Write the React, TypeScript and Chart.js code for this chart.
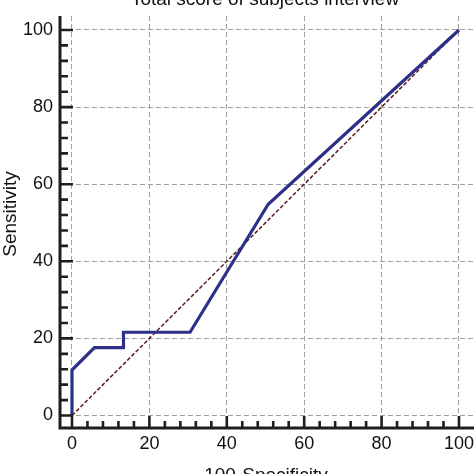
import React, { useEffect, useRef } from "react";
import { Chart, registerables } from "chart.js";

Chart.register(...registerables);

const rocX = [0, 0, 5.8, 13.3, 13.3, 30.5, 50.7, 100];
const rocY = [0, 11.8, 17.6, 17.6, 21.6, 21.6, 54.8, 100];
const diagX = [0, 100];
const diagY = [0, 100];
const tickValues = [0, 20, 40, 60, 80, 100];
const minorStep = 4;
const chartTitle = "Total score of subjects interview";
const xTitle = "100-Specificity";
const yTitle = "Sensitivity";

const FONT = "'Liberation Sans', Arial, sans-serif";

const axesPlugin = {
  id: "axesPlugin",
  afterDraw(chart: any) {
    const ctx = chart.ctx;
    const area = chart.chartArea;
    const xs = chart.scales.x;
    const ys = chart.scales.y;
    ctx.save();
    ctx.strokeStyle = "#1e1e1e";
    ctx.lineWidth = 3;
    ctx.lineCap = "butt";
    // spines
    ctx.beginPath();
    ctx.moveTo(area.left, area.top);
    ctx.lineTo(area.left, area.bottom + 1.5);
    ctx.moveTo(area.left - 1.5, area.bottom);
    ctx.lineTo(area.right, area.bottom);
    ctx.stroke();
    // ticks
    ctx.lineWidth = 2.6;
    ctx.beginPath();
    for (let v = 0; v <= 100; v += minorStep) {
      const major = v % 20 === 0;
      const len = major ? 13 : 8;
      const py = ys.getPixelForValue(v);
      ctx.moveTo(area.left, py);
      ctx.lineTo(area.left + len, py);
      const px = xs.getPixelForValue(v);
      ctx.moveTo(px, area.bottom);
      ctx.lineTo(px, area.bottom - len + 1);
    }
    ctx.stroke();
    // titles
    ctx.fillStyle = "#111";
    ctx.font = `19px ${FONT}`;
    ctx.textAlign = "center";
    ctx.textBaseline = "alphabetic";
    ctx.fillText(chartTitle, 265, 5);
    ctx.fillText(xTitle, 266, 481);
    ctx.translate(11, 214);
    ctx.rotate(-Math.PI / 2);
    ctx.textBaseline = "middle";
    ctx.fillText(yTitle, 0, 0);
    ctx.restore();
  },
};

export default function App() {
  const ref = useRef<HTMLCanvasElement>(null);
  useEffect(() => {
    document.body.style.margin = "0";
    const canvas = ref.current;
    if (!canvas) return;
    const chart = new Chart(canvas, {
      type: "scatter",
      data: {
        datasets: [
          {
            label: "ROC",
            data: rocX.map((x, i) => ({ x, y: rocY[i] })),
            showLine: true,
            borderColor: "#2d2f88",
            borderWidth: 3.2,
            pointRadius: 0,
            tension: 0,
            fill: false,
          },
          {
            label: "Reference",
            data: diagX.map((x, i) => ({ x, y: diagY[i] })),
            showLine: true,
            borderColor: "#5a1c1c",
            borderWidth: 1.5,
            borderDash: [4, 2],
            pointRadius: 0,
            fill: false,
          },
        ],
      },
      options: {
        responsive: false,
        animation: false,
        layout: { padding: { top: 16, right: 0, left: 0, bottom: 0 } },
        plugins: {
          legend: { display: false },
          tooltip: { enabled: false },
          title: { display: false },
        },
        scales: {
          x: {
            type: "linear",
            min: -3.1,
            max: 103.88,
            afterBuildTicks: (scale: any) => {
              scale.ticks = tickValues.map((v) => ({ value: v }));
            },
            afterFit: (scale: any) => {
              scale.height = 46;
              scale.paddingLeft = 0;
              scale.paddingRight = 0;
            },
            grid: {
              color: "#a0a0a0",
              lineWidth: 1,
              drawTicks: false,
            },
            border: { display: false, dash: [5, 3] },
            ticks: {
              padding: 5,
              color: "#111",
              font: { family: FONT, size: 18 },
              maxRotation: 0,
              autoSkip: false,
            },
          },
          y: {
            type: "linear",
            min: -3.24,
            max: 103.63,
            afterBuildTicks: (scale: any) => {
              scale.ticks = tickValues.map((v) => ({ value: v }));
            },
            afterFit: (scale: any) => {
              scale.width = 60;
              scale.paddingTop = 0;
              scale.paddingBottom = 0;
            },
            grid: {
              color: "#a0a0a0",
              lineWidth: 1,
              drawTicks: false,
            },
            border: { display: false, dash: [5, 3] },
            ticks: {
              padding: 7,
              color: "#111",
              font: { family: FONT, size: 18 },
              autoSkip: false,
            },
          },
        },
      },
      plugins: [axesPlugin],
    } as any);
    return () => chart.destroy();
  }, []);
  return (
    <div style={{ width: 474, height: 474 }}>
      <canvas ref={ref} width={474} height={474} style={{ display: "block" }} />
    </div>
  );
}
